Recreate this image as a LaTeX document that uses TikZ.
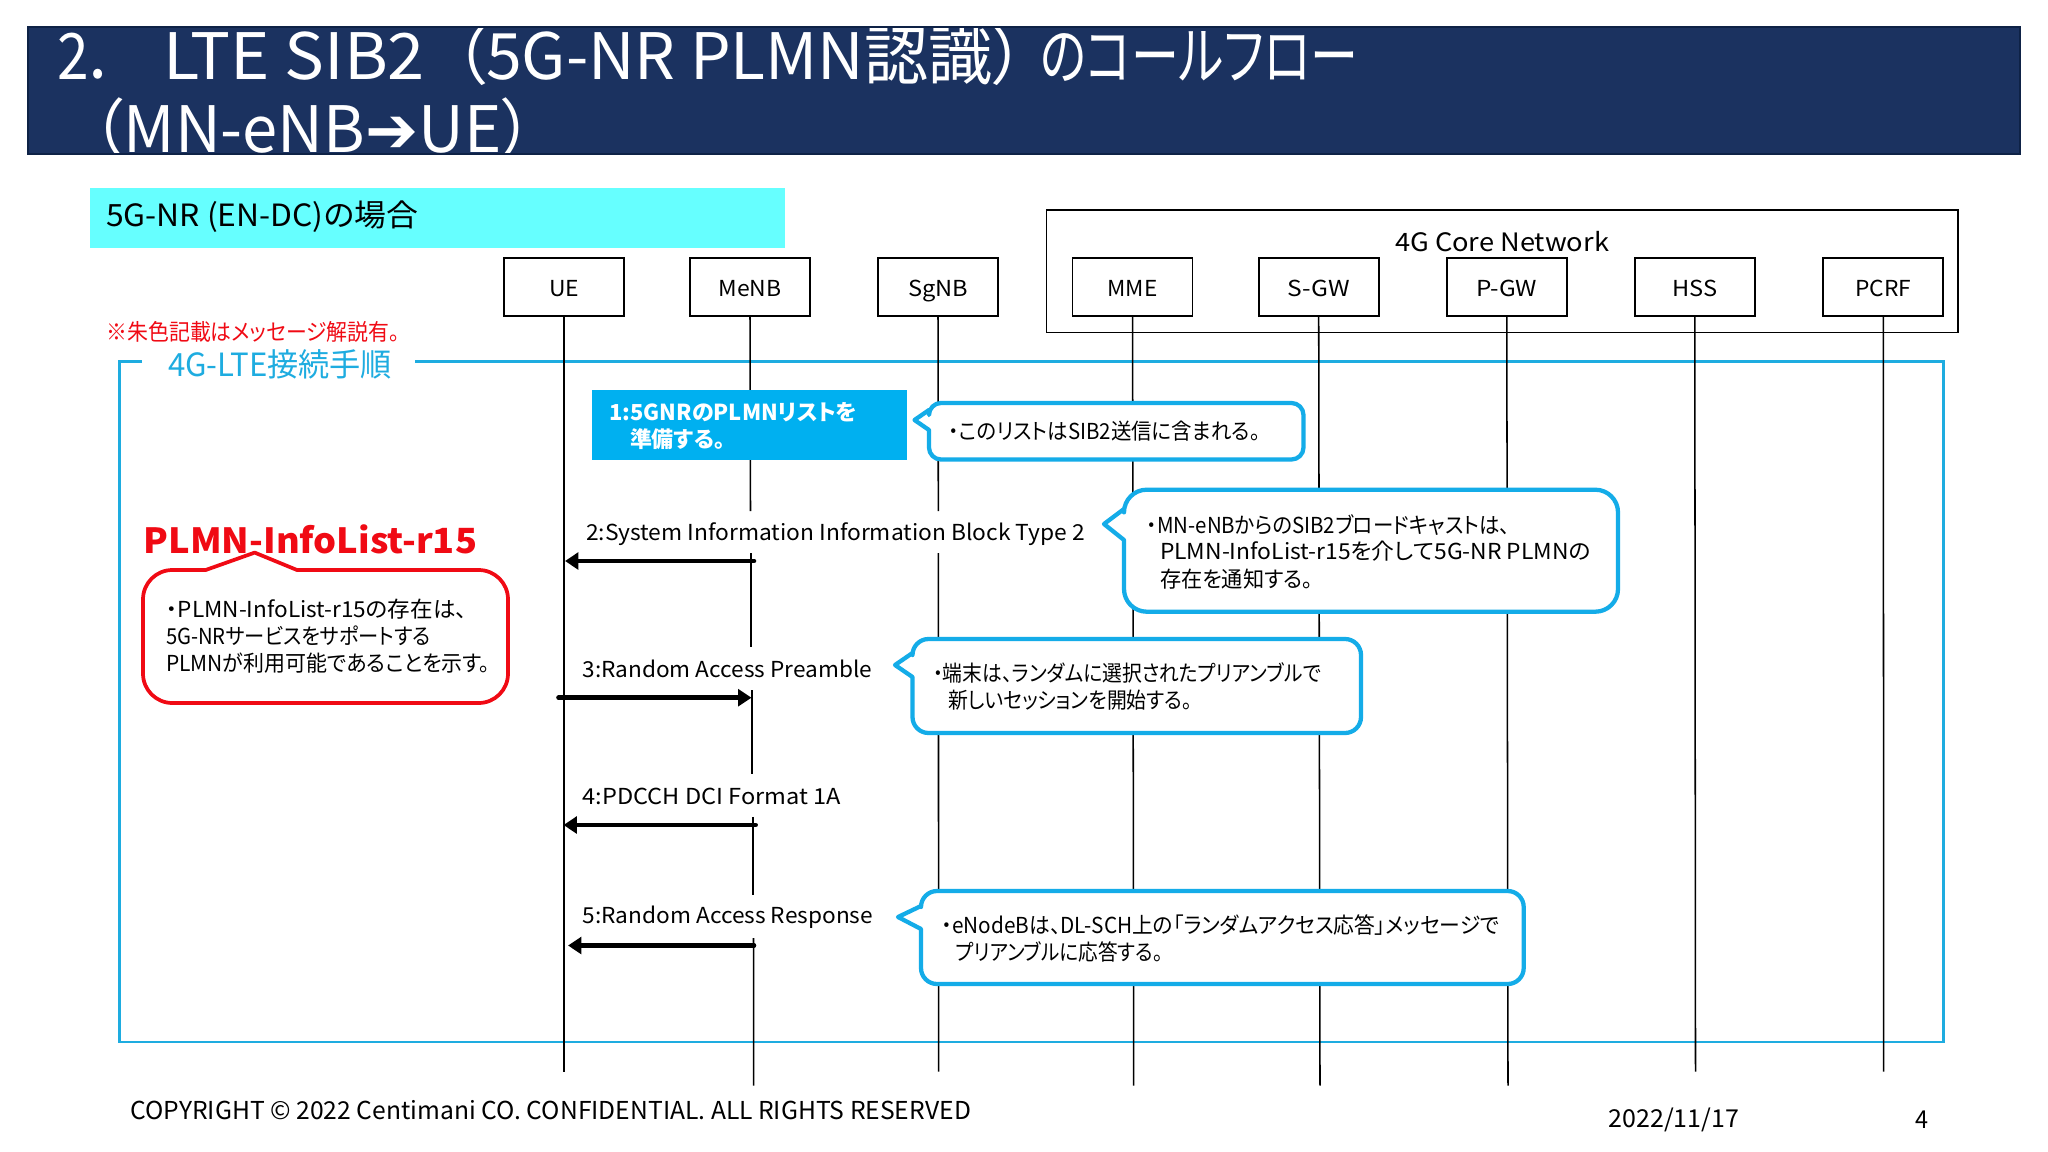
\documentclass[tikz,border=0pt]{standalone}
\usepackage{graphicx}
\usepackage{fontspec}
\setmainfont{Noto Sans CJK JP}[RawFeature=+palt]
\newfontfamily\dejavu{DejaVu Sans}
\usetikzlibrary{arrows.meta}
\definecolor{titlebg}{RGB}{27,50,96}
\definecolor{titleedge}{RGB}{14,34,70}
\definecolor{cyanbox}{RGB}{102,255,255}
\definecolor{framecol}{RGB}{30,172,224}
\definecolor{stepcol}{RGB}{0,176,240}
\definecolor{callcol}{RGB}{20,172,232}
\definecolor{redcol}{RGB}{240,10,20}
\newsavebox\fitb
\newcommand\fitw[2]{\sbox\fitb{#2}\pgfmathsetmacro\myfr{#1*0.75/\wd\fitb}\scalebox{\myfr}[1]{\usebox\fitb}}
% name, position, ink width, style, text
\newcommand\lab[5]{\node[txt,#4] (#1) at (#2) {\fitw{#3}{#5}};}
\newcommand\fs[1]{\fontsize{#1}{#1}\selectfont}
% tip; left x; upper base y; lower base y; top y; right x; bottom y; radius; style
\newcommand\callL[9]{\draw[#9] (#1) -- (#2,#3) [rounded corners=#8] -- (#2,#5) -- (#6,#5) -- (#6,#7) -- (#2,#7) [sharp corners] -- (#2,#4) -- cycle;}
\tikzset{
  txt/.style={inner sep=0pt,outer sep=0pt,anchor=west,font=\fs{16.5}},
  actor/.style={draw=black,line width=1.3pt,fill=white,inner sep=0pt,minimum width=90pt,minimum height=44pt,font=\fs{16.5},text height=13.5pt,text depth=0pt},
  life/.style={draw=black,line width=1.15pt},
  msg/.style={draw=black,line width=3.4pt,line cap=round,-{Triangle[length=10pt,width=12.5pt]}},
  bluecall/.style={draw=callcol,line width=3.2pt,fill=white,line join=round},
  redcall/.style={draw=redcol,line width=2.8pt,fill=white,line join=round},
  tt/.style={anchor=base west,text=white,font=\fs{48}},
  ctext/.style={font=\fs{16.5}},
}
\begin{document}
\begin{tikzpicture}[x=0.75pt,y=-0.75pt]
\useasboundingbox (0,0) rectangle (2048,1152);
\fill[white] (0,0) rectangle (2048,1152);
% title bar
\begin{scope}
\clip (28,27) rectangle (2020,154);
\fill[titlebg] (28,27) rectangle (2020,154);
\lab{t1a}{57,80}{60}{tt}{2．}
\lab{t1b}{163,80}{262}{tt}{LTE SIB2}
\lab{t1c}{454,80}{571}{tt}{（5G-NR PLMN認識）}
\lab{t1d}{1040,80}{318}{tt}{のコールフロー}
\lab{t2}{92,152}{441}{tt}{（MN-eNB{\dejavu ➔}UE）}
\end{scope}
\draw[titleedge,line width=1.2pt] (28,27) rectangle (2020,154);
% section band
\fill[cyanbox] (89.5,188) rectangle (785,248);
\lab{sec}{106,217}{312}{font=\fs{23}}{5G-NR (EN-DC)の場合}
% core network
\draw[black,line width=1.3pt] (1046.5,210) rectangle (1958,332.5);
\node[txt,font=\fs{19},anchor=center] (core) at (1502,241.5) {\fitw{214}{4G Core Network}};
% frame
\draw[framecol,line width=1.7pt] (142,361.5) -- (119.5,361.5) -- (119.5,1042) -- (1943.6,1042) -- (1943.6,361.5) -- (415,361.5);
\lab{framelab}{168,364}{224}{text=framecol,font=\fs{24}}{4G-LTE接続手順}
\lab{rednote}{106.5,332}{293.5}{text=redcol,font=\fs{17}}{※朱色記載はメッセージ解説有。}
% actors
\node[actor] (ue) at (564,287) {\fitw{30}{UE}};
\node[actor] (menb) at (750,287) {\fitw{63}{MeNB}};
\node[actor] (sgnb) at (938,287) {\fitw{60}{SgNB}};
\node[actor] (mme) at (1132.6,287) {\fitw{50}{MME}};
\node[actor] (sgw) at (1318.7,287) {\fitw{62}{S-GW}};
\node[actor] (pgw) at (1506.8,287) {\fitw{61}{P-GW}};
\node[actor] (hss) at (1694.8,287) {\fitw{45}{HSS}};
\node[actor] (pcrf) at (1883.3,287) {\fitw{56}{PCRF}};
% lifeline end points
\coordinate (ueE) at (564,1071.5);
\coordinate (m1) at (750.5,511);
\coordinate (m2) at (751,553);
\coordinate (m3) at (751,646.6);
\coordinate (m4) at (752,690);
\coordinate (m5) at (752,773.8);
\coordinate (m6) at (753,816.8);
\coordinate (m7) at (753,895);
\coordinate (m8) at (753.5,938);
\coordinate (m9) at (753.7,1085.5);
\coordinate (s1) at (938.3,511);
\coordinate (s2) at (938.4,553);
\coordinate (s3) at (938.6,1071.5);
\coordinate (mmeE) at (1133.7,1085.5);
\coordinate (sgwE) at (1320,1085.5);
\coordinate (pgwE) at (1508,1085.5);
\coordinate (hssE) at (1695.5,1071.5);
\coordinate (pcrfE) at (1883.7,1071.5);
\draw[life] (ue.south) -- (ueE);
\draw[life] (menb.south) -- (m1);
\draw[life] (m2) -- (m3);
\draw[life] (m4) -- (m5);
\draw[life] (m6) -- (m7);
\draw[life] (m8) -- (m9);
\draw[life] (sgnb.south) -- (s1);
\draw[life] (s2) -- (s3);
\draw[life] (mme.south) -- (mmeE);
\draw[life] (sgw.south) -- (sgwE);
\draw[life] (pgw.south) -- (pgwE);
\draw[life] (hss.south) -- (hssE);
\draw[life] (pcrf.south) -- (pcrfE);
% step box
\fill[stepcol] (592,390) rectangle (906.6,460);
\lab{st1}{609.4,412}{247.6}{text=white,font=\bfseries\fs{16.5}}{1:5GNRのPLMNリストを}
\lab{st2}{630,439}{95}{text=white,font=\bfseries\fs{16.5}}{準備する。}
% callouts
\coordinate (tip1) at (914.5,420);
\callL{tip1}{929}{410}{430}{403}{1303.5}{459.5}{9pt}{bluecall}
\lab{c1a}{949,431}{311}{ctext}{・このリストはSIB2送信に含まれる。}
\coordinate (tip2) at (1104,524);
\callL{tip2}{1124}{509}{540}{489.7}{1618}{611.7}{17pt}{bluecall}
\lab{c2a}{1147,525}{363}{ctext}{・MN-eNBからのSIB2ブロードキャストは、}
\lab{c2b}{1160,551}{431}{ctext}{PLMN-InfoList-r15を介して5G-NR PLMNの}
\lab{c2c}{1160,579}{153}{ctext}{存在を通知する。}
\coordinate (tip3) at (895,665);
\callL{tip3}{912.5}{653}{677}{639}{1361}{733}{12pt}{bluecall}
\lab{c3a}{933,673}{388}{ctext}{・端末は、ランダムに選択されたプリアンブルで}
\lab{c3b}{948,700}{244.5}{ctext}{新しいセッションを開始する。}
\coordinate (tip4) at (898,917);
\callL{tip4}{921}{906}{929}{891}{1523.7}{984}{12pt}{bluecall}
\lab{c4a}{942,925}{557.5}{ctext}{・eNodeBは、DL-SCH上の「ランダムアクセス応答」メッセージで}
\lab{c4b}{955.6,952}{207.4}{ctext}{プリアンブルに応答する。}
% red callout
\coordinate (tipR) at (254.7,552.6);
\draw[redcall] (tipR) -- (297,570) [rounded corners=22pt] -- (508,570) -- (508,703) -- (143,703) -- (143,570) [sharp corners] -- (205.7,570) -- cycle;
\lab{plmn}{143.7,539}{333.3}{text=redcol,font=\bfseries\fs{26}}{PLMN-InfoList-r15}
\lab{r1}{166.5,609.5}{300.5}{ctext}{・PLMN-InfoList-r15の存在は、}
\lab{r2}{166,636}{265}{ctext}{5G-NRサービスをサポートする}
\lab{r3}{166,663.5}{324}{ctext}{PLMNが利用可能であることを示す。}
% messages
\coordinate (a2s) at (754,561);
\coordinate (a2e) at (565,561);
\coordinate (a3s) at (558.5,697.7);
\coordinate (a3e) at (751.5,697.7);
\coordinate (a4s) at (755.7,825);
\coordinate (a4e) at (563.5,825);
\coordinate (a5s) at (754,945.5);
\coordinate (a5e) at (568,945.5);
\draw[msg] (a2s) -- (a2e);
\draw[msg] (a3s) -- (a3e);
\draw[msg] (a4s) -- (a4e);
\draw[msg] (a5s) -- (a5e);
\lab{l2}{586,534}{499}{}{2:System Information Information Block Type 2}
\lab{l3}{582.6,669}{289.4}{}{3:Random Access Preamble}
\lab{l4}{582.6,796.6}{258.4}{}{4:PDCCH DCI Format 1A}
\lab{l5}{582.6,917}{290.4}{}{5:Random Access Response}
% footer
\lab{copy}{130.6,1110}{840.4}{font=\fs{18.5}}{COPYRIGHT © 2022 Centimani CO. CONFIDENTIAL. ALL RIGHTS RESERVED}
\lab{date}{1608.6,1120}{130.4}{font=\fs{18.5}}{2022/11/17}
\lab{page}{1915.6,1120}{13}{font=\fs{18.5}}{4}
\end{tikzpicture}
\end{document}
